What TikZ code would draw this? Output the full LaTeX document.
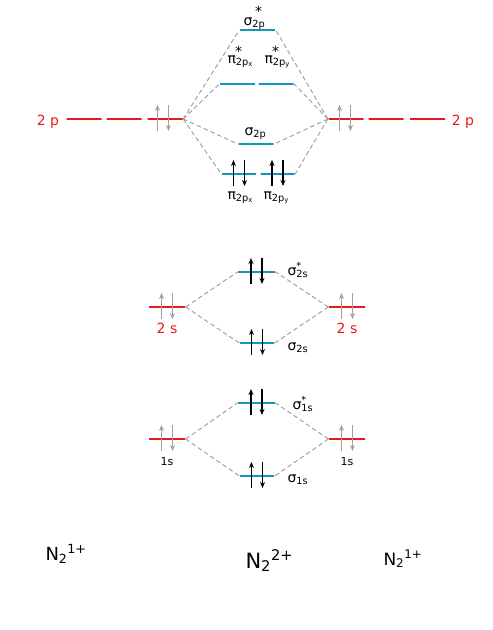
\documentclass[tikz,border=0pt]{standalone}
\usepackage{fontspec}
\setmainfont{DejaVu Sans}
\usetikzlibrary{arrows.meta}
\definecolor{mocyan}{RGB}{20,150,190}
\definecolor{aored}{RGB}{235,25,25}
\definecolor{spingray}{RGB}{160,160,160}

% electron pair (up and down) on an orbital
\newcommand{\spins}[2]{%
  \draw[spin,#2] ([shift={(-5.5,12)}]#1.center) -- ([shift={(-5.5,-14)}]#1.center);
  \draw[spin,#2] ([shift={(5.5,-14)}]#1.center) -- ([shift={(5.5,12)}]#1.center);}
% star set above a label
\newcommand{\overstar}[3]{\rlap{\hspace{#1}\raisebox{#2}{*}}#3}

\begin{document}
\begin{tikzpicture}[x=1pt,y=-1pt,line width=1pt]
    \tikzstyle{orb}=[draw,line width=1.3pt,minimum width=35pt,minimum height=0pt,inner sep=0pt]
    \tikzstyle{ao}=[orb, draw=aored]
    \tikzstyle{mo}=[orb, draw=mocyan]
    \tikzstyle{link}=[draw=gray!80, dash pattern=on 4.5pt off 3pt, line width=0.9pt]
    \tikzstyle{spin}=[-{Stealth[length=6pt,width=5pt]}, line width=1.8pt]
    \tikzstyle{lab}=[font=\fontsize{14}{16}\selectfont, inner sep=0pt]
    \tikzstyle{small}=[font=\fontsize{11}{13}\selectfont, inner sep=0pt]

    \useasboundingbox (0,0) rectangle (493,630);

    % 2p atomic orbitals
    \node[ao] (A2p-1) at (84,119) {};
    \node[ao] (A2p-2) at (124,119) {};
    \node[ao] (A2p-3) at (165,119) {};
    \node[ao] (B2p-1) at (346,119) {};
    \node[ao] (B2p-2) at (386,119) {};
    \node[ao] (B2p-3) at (427.5,119) {};
    \coordinate (A2p-e) at (163,119);
    \coordinate (B2p-e) at (345,119);

    % 2p molecular orbitals
    \node[mo] (sig2pstar) at (257.5,30) {};
    \node[mo] (pistarx) at (237.5,84) {};
    \node[mo] (pistary) at (276,84) {};
    \node[mo] (sig2p) at (256,144) {};
    \node[mo,minimum width=34pt] (pix) at (239,174) {};
    \node[mo,minimum width=34pt] (piy) at (277.5,174) {};

    % 2s and 1s levels
    \node[ao,minimum width=36pt] (A2s) at (167,307) {};
    \node[ao,minimum width=36pt] (B2s) at (347,307) {};
    \node[mo,minimum width=37pt] (sig2sstar) at (256.5,272) {};
    \node[mo,minimum width=34pt] (sig2s) at (257,343) {};
    \node[ao,minimum width=36pt] (A1s) at (167,439) {};
    \node[ao,minimum width=36pt] (B1s) at (347,439) {};
    \node[mo,minimum width=37pt] (sig1sstar) at (256.5,403) {};
    \node[mo,minimum width=34pt] (sig1s) at (257,476) {};

    % Connect the atomic orbitals with the molecular orbitals
    \draw[link] (A2p-3.east) -- (sig2pstar.west);
    \draw[link] (A2p-3.east) -- (pistarx.west);
    \draw[link] (A2p-3.east) -- (sig2p.west);
    \draw[link] (A2p-3.east) -- (pix.west);
    \draw[link] (B2p-1.west) -- (sig2pstar.east);
    \draw[link] (B2p-1.west) -- (pistary.east);
    \draw[link] (B2p-1.west) -- (sig2p.east);
    \draw[link] (B2p-1.west) -- (piy.east);
    \draw[link] (A2s.east) -- (sig2sstar.west);
    \draw[link] (A2s.east) -- (sig2s.west);
    \draw[link] (B2s.west) -- (sig2sstar.east);
    \draw[link] (B2s.west) -- (sig2s.east);
    \draw[link] (A1s.east) -- (sig1sstar.west);
    \draw[link] (A1s.east) -- (sig1s.west);
    \draw[link] (B1s.west) -- (sig1sstar.east);
    \draw[link] (B1s.west) -- (sig1s.east);

    % Electrons
    \spins{A2p-e}{spingray}
    \spins{B2p-e}{spingray}
    \spins{pix}{black}
    \spins{piy}{black}
    \spins{A2s}{spingray}
    \spins{B2s}{spingray}
    \spins{sig2sstar}{black}
    \spins{sig2s}{black}
    \spins{A1s}{spingray}
    \spins{B1s}{spingray}
    \spins{sig1sstar}{black}
    \spins{sig1s}{black}

    % Labels
    \node[lab,text=aored,anchor=base] (t-A2p) at (48,125) {2 p};
    \node[lab,text=aored,anchor=base] (t-B2p) at (463,125) {2 p};
    \node[lab,anchor=base west] (t-sig2pstar) at (243,25) {\overstar{11.5pt}{9pt}{σ\textsubscript{2p}}};
    \node[lab,anchor=base west] (t-pistarx) at (227,63) {\overstar{7.5pt}{7pt}{π\textsubscript{2p\textsubscript{x}}}};
    \node[lab,anchor=base west] (t-pistary) at (264,63) {\overstar{7.5pt}{7pt}{π\textsubscript{2p\textsubscript{y}}}};
    \node[lab,anchor=base west] (t-sig2p) at (244,135) {σ\textsubscript{2p}};
    \node[lab,anchor=base west] (t-pix) at (227,199) {π\textsubscript{2p\textsubscript{x}}};
    \node[lab,anchor=base west] (t-piy) at (263,199) {π\textsubscript{2p\textsubscript{y}}};
    \node[lab,text=aored,anchor=base] (t-A2s) at (167,333) {2 s};
    \node[lab,text=aored,anchor=base] (t-B2s) at (347,333) {2 s};
    \node[lab,anchor=base west] (t-sig2sstar) at (287,275) {σ\rlap{\textsuperscript{*}}\textsubscript{2s}};
    \node[lab,anchor=base west] (t-sig2s) at (287,350) {σ\textsubscript{2s}};
    \node[small,anchor=base] (t-A1s) at (167,465) {1s};
    \node[small,anchor=base] (t-B1s) at (347,465) {1s};
    \node[lab,anchor=base west] (t-sig1sstar) at (292,409) {σ\rlap{\textsuperscript{*}}\textsubscript{1s}};
    \node[lab,anchor=base west] (t-sig1s) at (287,482) {σ\textsubscript{1s}};

    % Species
    \node[font=\fontsize{18}{20}\selectfont,inner sep=0pt,anchor=base west] (t-left) at (45,560) {N\textsubscript{2}\textsuperscript{1+}};
    \node[font=\fontsize{21}{24}\selectfont,inner sep=0pt,anchor=base west] (t-mid) at (245,568) {N\textsubscript{2}\textsuperscript{2+}};
    \node[font=\fontsize{17}{20}\selectfont,inner sep=0pt,anchor=base west] (t-right) at (383,565) {N\textsubscript{2}\textsuperscript{1+}};
\end{tikzpicture}
\end{document}
